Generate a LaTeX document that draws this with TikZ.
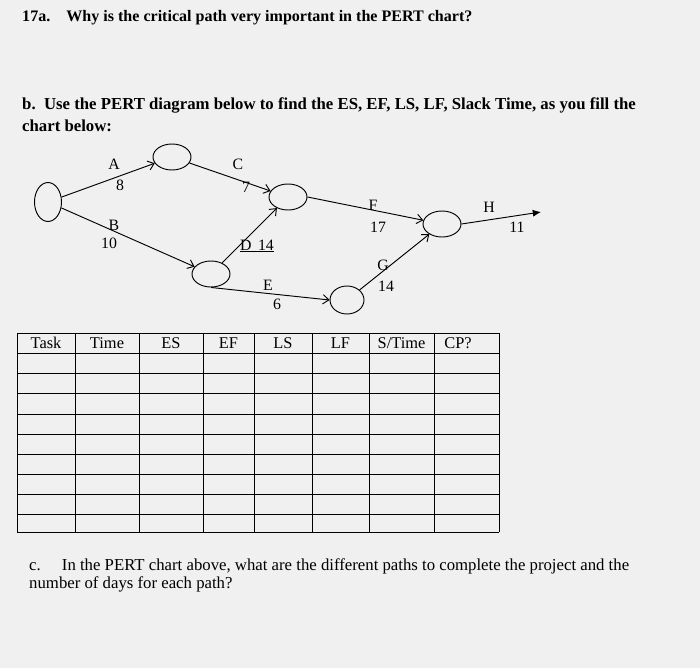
\documentclass[tikz,border=0pt]{standalone}
\usepackage{fontspec}
\setmainfont{Liberation Serif}
\usetikzlibrary{shapes.geometric, arrows.meta}

\tikzset{
	event/.style={draw, ellipse, thick, inner sep=0pt, minimum width=1.14cm, minimum height=0.78cm},
	act/.style={thick, -{Straight Barb[length=5pt, width=8pt]}},
	lbl/.style={font=\fontsize{13.5}{15}\selectfont, inner sep=1pt},
	head/.style={font=\fontsize{14}{15}\selectfont},
	qtext/.style={anchor=west, inner sep=0pt, font=\fontsize{14.3}{16}\selectfont}
}

\begin{document}
\begin{tikzpicture}[x=0.03cm, y=-0.03cm, line join=round]

	%% page
	\fill[gray!12] (0,0) rectangle (700,668);
	\useasboundingbox (0,0) rectangle (700,668);

	%% questions
	\node[qtext, font=\fontsize{13.7}{16}\selectfont\bfseries] (qa) at (22,18) {17a.\quad Why is the critical path very important in the PERT chart?};
	\node[qtext, font=\fontsize{14.3}{16}\selectfont\bfseries] (qb) at (22,105) {b.\ \ Use the PERT diagram below to find the ES, EF, LS, LF, Slack Time, as you fill the};
	\node[qtext, font=\fontsize{14.3}{16}\selectfont\bfseries] (qb2) at (22,126) {chart below:};
	\node[qtext] (qc) at (29,566) {c.\hspace{18pt}In the PERT chart above, what are the different paths to complete the project and the};
	\node[qtext] (qc2) at (29,584) {number of days for each path?};

	%% events
	\node[event, minimum width=0.81cm, minimum height=1.17cm] (n1) at (48,202) {};
	\node[event] (n2) at (172,157) {};
	\node[event] (n3) at (288,197) {};
	\node[event] (n4) at (211,274) {};
	\node[event, minimum width=1.02cm, minimum height=0.84cm] (n5) at (347,300) {};
	\node[event] (n6) at (442,224) {};
	\coordinate (end) at (541,212);

	%% activities
	\draw[act] (n1) -- (n2);
	\draw[act] (n1) -- (n4);
	\draw[act] (n2) -- (n3);
	\draw[act] (n4) -- (n3);
	\draw[act] (n4.south) -- (n5.west);
	\draw[act] (n3.east) -- (n6);
	\draw[act] (n5) -- (n6);
	\draw[thick, -{Latex[length=7pt, width=6pt]}] (n6.east) -- (end);

	%% labels
	\node[lbl] (la) at (114,164) {A};
	\node[lbl] (ta) at (120,185) {8};
	\node[lbl] (lb) at (114,225) {B};
	\node[lbl] (tb) at (109,243) {10};
	\node[lbl] (lc) at (238,164) {C};
	\node[lbl] (tc) at (246,187) {7};
	\node[lbl] (ld) at (257,246) {\underline{D\,\ 14}};
	\node[lbl] (le) at (268,285) {E};
	\node[lbl] (te) at (277,304) {6};
	\node[lbl] (lf) at (373,205) {F};
	\node[lbl] (tf) at (378,227) {17};
	\node[lbl] (lg) at (383,265) {G};
	\node[lbl] (tg) at (386,286) {14};
	\node[lbl] (lh) at (489,207) {H};
	\node[lbl] (th) at (517,227) {11};

	%% chart
	\foreach \y in {333,353,373,393,414,434,454,474,494,514,532}
		\draw[thick] (17,\y) -- (499,\y);
	\foreach \x in {17,75,139,203,254,312,369,434,499}
		\draw[thick] (\x,333) -- (\x,532);
	\foreach \x/\t [count=\i] in {46/Task, 107/Time, 171/ES, 228.5/EF, 283/LS, 340.5/LF, 401.5/S\slash Time, 458/CP?}
		\node[head] (h\i) at (\x,343) {\t};

\end{tikzpicture}
\end{document}
